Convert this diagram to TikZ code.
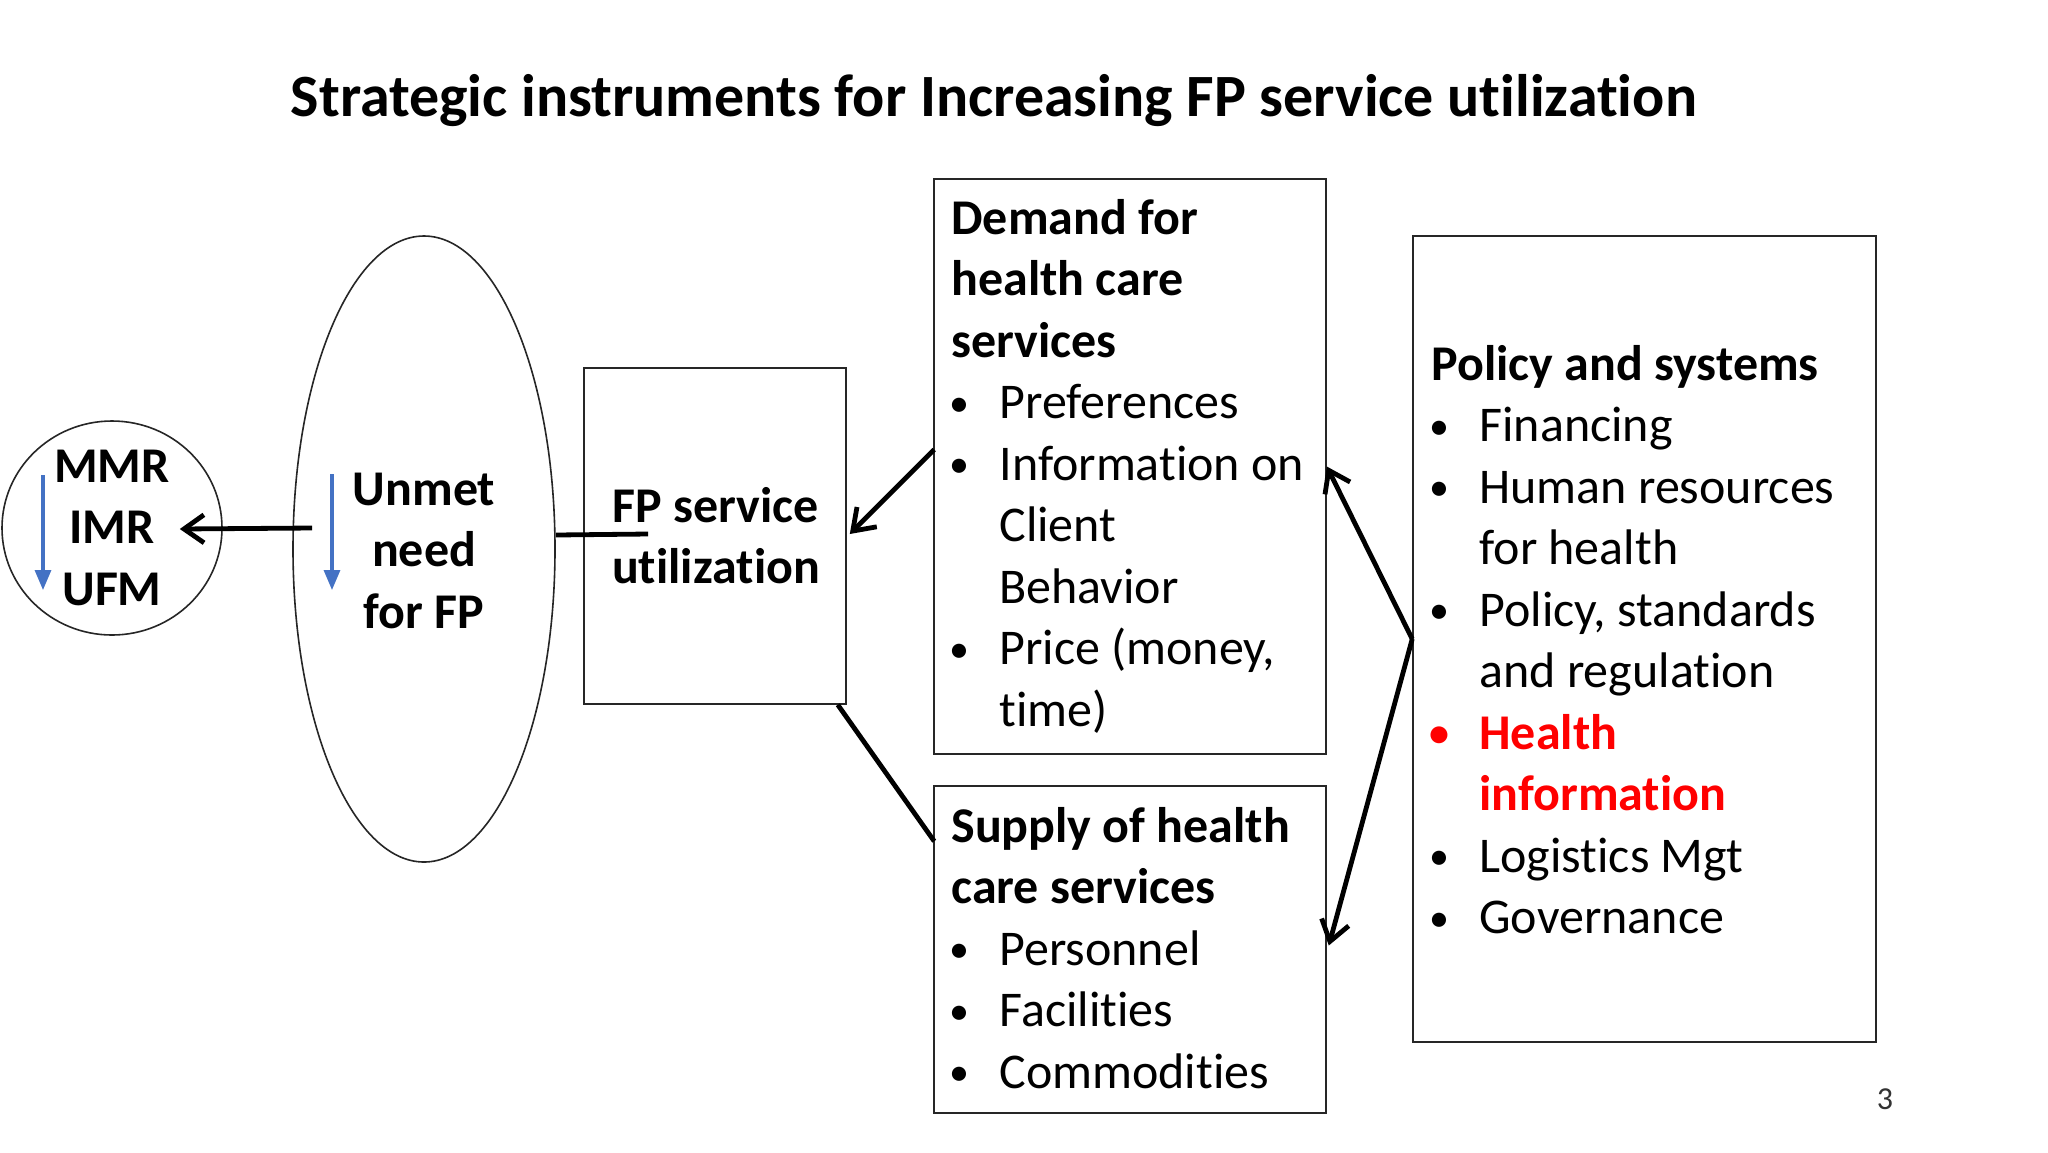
\documentclass[tikz,border=0pt]{standalone}
\usepackage{fontspec}
\setmainfont{Carlito}[RawFeature={-liga;-clig;-dlig}]
\usetikzlibrary{shapes.geometric,arrows.meta,calc}
\definecolor{pptblue}{HTML}{4472C4}
\definecolor{pptred}{HTML}{FF0000}
\newcommand\bul{\makebox[24pt][l]{\hspace{-1pt}\raisebox{1.2pt}{\fontsize{20}{20}\selectfont\textbullet}}}
\newcommand\ind{\hspace*{24pt}}
\begin{document}
\begin{tikzpicture}[x=0.5pt,y=-0.5pt,
  box/.style={draw=black!85,line width=0.8pt,rectangle,inner sep=0pt},
  oval/.style={draw=black!85,line width=0.8pt,ellipse,inner sep=0pt},
  txt/.style={inner sep=0pt,font=\fontsize{25}{30.75}\selectfont},
  conn/.style={line width=2.4pt},
  tip/.style={-{Straight Barb[length=10pt,width=14pt]}},
  down/.style={draw=pptblue,line width=1.6pt,-{Triangle[length=10pt,width=8pt]}}]

\fill[white] (0,0) rectangle (2048,1152);
\useasboundingbox (0,0) rectangle (2048,1152);

% shapes
\node[oval,minimum width=110pt,minimum height=107pt] (circ) at (112,528) {};
\node[oval,minimum width=131pt,minimum height=313pt] (unmet) at (424,549) {};
\node[box,minimum width=131pt,minimum height=168pt] (fp) at (715,536) {};
\node[box,minimum width=196pt,minimum height=287.5pt] (demand) at (1130,466.5) {};
\node[box,minimum width=196pt,minimum height=163.5pt] (supply) at (1130,949.5) {};
\node[box,minimum width=231.5pt,minimum height=403pt] (policy) at (1644.5,639) {};

% texts
\node[txt,anchor=base] (title) at (994,116) {\fontsize{30}{36}\selectfont\bfseries Strategic instruments for Increasing FP service utilization};
\node[txt,anchor=base] (circtxt) at (112,482) {\parbox[t]{120pt}{\centering\bfseries MMR\\IMR\\UFM}};
\node[txt,anchor=base] (unmettxt) at (424,505) {\parbox[t]{120pt}{\centering\bfseries Unmet\\need\\for FP}};
\node[txt,anchor=base] (fptxt) at (716,522) {\parbox[t]{200pt}{\centering\bfseries FP service\\utilization}};
\node[txt,anchor=base west] (demtxt) at (951,234) {\parbox[t]{190pt}{\raggedright
  \textbf{Demand for}\\\textbf{health care}\\\textbf{services}\\
  \bul Preferences\\\bul Information on\\\ind Client\\\ind Behavior\\
  \bul Price (money,\\\ind time)}};
\node[txt,anchor=base west] (suptxt) at (951,842) {\parbox[t]{190pt}{\raggedright
  \textbf{Supply of health}\\\textbf{care services}\\
  \bul Personnel\\\bul Facilities\\\bul Commodities}};
\node[txt,anchor=base west] (poltxt) at (1431,380) {\parbox[t]{225pt}{\raggedright
  \textbf{Policy and systems}\\
  \bul Financing\\\bul Human resources\\\ind for health\\
  \bul Policy, standards\\\ind and regulation\\
  {\color{pptred}\bfseries\bul Health}\\{\color{pptred}\bfseries\ind information}\\
  \bul Logistics Mgt\\\bul Governance}};
\node[txt,font=\fontsize{16}{18}\selectfont,text=black!80] (pg) at (1885,1099) {3};

% blue down arrows
\coordinate (b1s) at (43,475);
\coordinate (b1e) at (43,590);
\coordinate (b2s) at (332,474);
\coordinate (b2e) at (332,590);
\draw[down] (b1s) -- (b1e);
\draw[down] (b2s) -- (b2e);

% connectors
\draw[conn,tip] ($(unmet.west)+(20,-21)$) -- ($(circ.east)+(-43,1)$);
\draw[conn] ($(unmet.east)+(0,-14)$) -- ($(fp.west)+(65,-2)$);
\draw[conn,tip] ($(demand.west)+(1,-17)$) -- ($(fp.east)+(3,-2)$);
\draw[conn] ($(fp.south east)+(-9,0)$) -- ($(supply.north west)+(1,56)$);
\draw[conn,tip] (policy.west) -- (demand.east);
\draw[conn,tip] (policy.west) -- ($(supply.east)+(2,-4)$);
\end{tikzpicture}
\end{document}
